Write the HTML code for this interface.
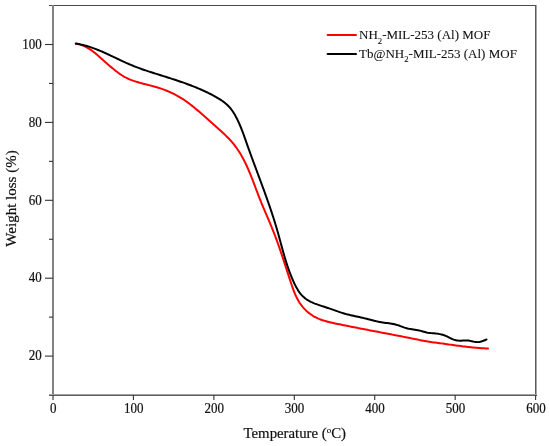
<!DOCTYPE html>
<html><head><meta charset="utf-8"><style>
html,body{margin:0;padding:0;background:#fff;}
body{width:550px;height:446px;overflow:hidden;}
svg{display:block;}
text{font-family:"Liberation Serif","Times New Roman",serif;fill:#111;stroke:#111;stroke-width:0.2px;}
.tl{font-size:13px;}
.tk{stroke:#333;stroke-width:1.1;}
.ax{font-size:14.5px;}
.lg{font-size:13px;stroke-width:0.08px;}
</style></head><body>
<svg width="550" height="446" viewBox="0 0 550 446">
<rect x="0" y="0" width="550" height="446" fill="#fff"/>
<path d="M75.76 43.65 L77.24 43.91 L78.70 44.23 L80.15 44.63 L81.58 45.09 L82.98 45.61 L84.37 46.19 L85.72 46.84 L87.05 47.53 L88.35 48.28 L89.63 49.07 L90.87 49.90 L92.09 50.77 L93.29 51.68 L94.47 52.61 L95.63 53.56 L96.77 54.53 L97.91 55.51 L99.03 56.50 L100.15 57.50 L101.28 58.49 L102.40 59.49 L103.52 60.48 L104.65 61.47 L105.77 62.46 L106.90 63.45 L108.04 64.43 L109.17 65.42 L110.31 66.39 L111.45 67.37 L112.60 68.33 L113.75 69.29 L114.92 70.24 L116.09 71.17 L117.28 72.08 L118.49 72.97 L119.71 73.84 L120.95 74.68 L122.21 75.49 L123.50 76.27 L124.80 77.01 L126.13 77.71 L127.48 78.36 L128.84 78.98 L130.23 79.57 L131.62 80.12 L133.03 80.64 L134.45 81.13 L135.87 81.60 L137.30 82.04 L138.74 82.47 L140.18 82.88 L141.63 83.27 L143.08 83.66 L144.53 84.03 L145.99 84.40 L147.44 84.77 L148.90 85.14 L150.35 85.51 L151.80 85.89 L153.25 86.27 L154.70 86.67 L156.14 87.07 L157.58 87.50 L159.01 87.95 L160.44 88.41 L161.86 88.89 L163.27 89.39 L164.68 89.92 L166.08 90.46 L167.47 91.02 L168.85 91.61 L170.22 92.21 L171.58 92.84 L172.94 93.48 L174.28 94.15 L175.61 94.84 L176.93 95.55 L178.24 96.28 L179.54 97.04 L180.82 97.81 L182.09 98.61 L183.35 99.43 L184.60 100.26 L185.83 101.12 L187.05 101.99 L188.26 102.87 L189.47 103.77 L190.66 104.68 L191.84 105.61 L193.01 106.54 L194.18 107.48 L195.34 108.44 L196.49 109.40 L197.63 110.37 L198.77 111.34 L199.91 112.32 L201.04 113.30 L202.17 114.29 L203.30 115.28 L204.42 116.27 L205.55 117.27 L206.67 118.26 L207.79 119.26 L208.91 120.26 L210.03 121.26 L211.15 122.26 L212.26 123.26 L213.38 124.26 L214.50 125.26 L215.61 126.26 L216.73 127.26 L217.85 128.26 L218.97 129.26 L220.08 130.26 L221.20 131.27 L222.30 132.28 L223.40 133.30 L224.50 134.33 L225.58 135.36 L226.66 136.41 L227.72 137.47 L228.76 138.55 L229.80 139.63 L230.81 140.74 L231.80 141.87 L232.77 143.01 L233.72 144.17 L234.65 145.35 L235.55 146.55 L236.43 147.76 L237.29 148.99 L238.13 150.23 L238.95 151.49 L239.75 152.76 L240.53 154.04 L241.29 155.33 L242.04 156.63 L242.76 157.95 L243.47 159.27 L244.16 160.60 L244.84 161.94 L245.50 163.29 L246.14 164.64 L246.78 166.00 L247.40 167.37 L248.01 168.74 L248.61 170.11 L249.19 171.49 L249.77 172.88 L250.34 174.26 L250.91 175.65 L251.46 177.05 L252.01 178.44 L252.55 179.84 L253.09 181.24 L253.63 182.64 L254.16 184.04 L254.69 185.45 L255.22 186.85 L255.75 188.26 L256.27 189.66 L256.80 191.06 L257.33 192.47 L257.86 193.87 L258.40 195.27 L258.94 196.67 L259.48 198.07 L260.03 199.46 L260.59 200.86 L261.15 202.25 L261.72 203.64 L262.29 205.02 L262.87 206.41 L263.45 207.79 L264.03 209.17 L264.62 210.55 L265.21 211.93 L265.80 213.31 L266.39 214.69 L266.98 216.07 L267.57 217.45 L268.16 218.83 L268.75 220.21 L269.33 221.59 L269.92 222.97 L270.50 224.35 L271.07 225.74 L271.64 227.12 L272.21 228.51 L272.77 229.91 L273.32 231.30 L273.87 232.70 L274.41 234.10 L274.95 235.50 L275.48 236.90 L276.00 238.31 L276.52 239.71 L277.03 241.12 L277.54 242.53 L278.05 243.95 L278.55 245.36 L279.04 246.78 L279.53 248.19 L280.02 249.61 L280.51 251.03 L280.99 252.45 L281.47 253.87 L281.95 255.29 L282.42 256.72 L282.89 258.14 L283.36 259.56 L283.83 260.99 L284.30 262.42 L284.76 263.84 L285.23 265.27 L285.69 266.69 L286.16 268.12 L286.62 269.55 L287.08 270.97 L287.55 272.40 L288.01 273.83 L288.48 275.25 L288.94 276.68 L289.41 278.10 L289.87 279.53 L290.34 280.95 L290.82 282.38 L291.29 283.80 L291.77 285.22 L292.26 286.64 L292.75 288.06 L293.27 289.47 L293.79 290.87 L294.34 292.27 L294.91 293.65 L295.51 295.03 L296.13 296.40 L296.79 297.74 L297.47 299.08 L298.20 300.39 L298.96 301.68 L299.76 302.95 L300.61 304.19 L301.50 305.40 L302.43 306.57 L303.40 307.72 L304.41 308.83 L305.45 309.90 L306.54 310.94 L307.66 311.94 L308.81 312.89 L310.00 313.81 L311.22 314.68 L312.47 315.51 L313.76 316.29 L315.07 317.01 L316.40 317.69 L317.76 318.33 L319.14 318.92 L320.54 319.47 L321.95 319.98 L323.37 320.46 L324.80 320.91 L326.24 321.33 L327.69 321.72 L329.14 322.09 L330.60 322.44 L332.06 322.77 L333.53 323.09 L334.99 323.40 L336.46 323.71 L337.93 324.01 L339.40 324.30 L340.87 324.60 L342.34 324.90 L343.81 325.20 L345.28 325.50 L346.75 325.79 L348.23 326.09 L349.70 326.38 L351.17 326.68 L352.64 326.97 L354.11 327.26 L355.58 327.55 L357.05 327.84 L358.53 328.13 L360.00 328.41 L361.47 328.70 L362.94 328.98 L364.42 329.27 L365.89 329.55 L367.36 329.84 L368.83 330.12 L370.31 330.40 L371.78 330.68 L373.25 330.96 L374.73 331.25 L376.20 331.53 L377.67 331.81 L379.15 332.09 L380.62 332.37 L382.10 332.65 L383.57 332.93 L385.04 333.21 L386.52 333.49 L387.99 333.78 L389.46 334.06 L390.94 334.34 L392.41 334.62 L393.88 334.91 L395.35 335.19 L396.83 335.48 L398.30 335.76 L399.77 336.05 L401.24 336.33 L402.72 336.62 L404.19 336.91 L405.66 337.20 L407.13 337.49 L408.60 337.79 L410.07 338.08 L411.54 338.37 L413.01 338.67 L414.48 338.97 L415.95 339.27 L417.42 339.57 L418.89 339.87 L420.36 340.17 L421.83 340.47 L423.31 340.75 L424.78 341.03 L426.26 341.29 L427.74 341.54 L429.22 341.77 L430.70 341.99 L432.19 342.20 L433.67 342.40 L435.16 342.60 L436.65 342.79 L438.14 342.98 L439.62 343.18 L441.11 343.38 L442.60 343.58 L444.08 343.78 L445.57 343.99 L447.05 344.20 L448.54 344.41 L450.02 344.63 L451.51 344.84 L452.99 345.05 L454.48 345.26 L455.96 345.46 L457.45 345.66 L458.94 345.86 L460.43 346.05 L461.91 346.24 L463.40 346.42 L464.89 346.59 L466.38 346.76 L467.87 346.93 L469.37 347.09 L470.86 347.24 L472.35 347.38 L473.84 347.53 L475.34 347.66 L476.83 347.79 L478.33 347.92 L479.82 348.03 L481.32 348.15 L482.81 348.25 L484.31 348.36 L485.81 348.45 L487.31 348.54 L488.00 348.58" fill="none" stroke="#ff0000" stroke-width="2" stroke-linejoin="round" stroke-linecap="round"/>
<path d="M75.81 43.56 L77.29 43.80 L78.77 44.07 L80.24 44.36 L81.70 44.68 L83.16 45.03 L84.61 45.41 L86.06 45.80 L87.50 46.22 L88.93 46.67 L90.36 47.13 L91.78 47.61 L93.19 48.11 L94.60 48.63 L96.00 49.17 L97.40 49.71 L98.79 50.28 L100.18 50.85 L101.56 51.44 L102.93 52.03 L104.31 52.64 L105.67 53.25 L107.04 53.88 L108.40 54.50 L109.76 55.14 L111.12 55.78 L112.47 56.42 L113.83 57.06 L115.18 57.71 L116.54 58.35 L117.89 59.00 L119.25 59.64 L120.60 60.28 L121.96 60.92 L123.32 61.55 L124.68 62.18 L126.05 62.80 L127.42 63.41 L128.79 64.01 L130.17 64.60 L131.55 65.18 L132.94 65.75 L134.33 66.31 L135.73 66.86 L137.13 67.39 L138.54 67.92 L139.95 68.43 L141.36 68.94 L142.77 69.44 L144.19 69.93 L145.61 70.41 L147.03 70.89 L148.46 71.36 L149.88 71.83 L151.31 72.29 L152.74 72.75 L154.17 73.20 L155.60 73.65 L157.03 74.11 L158.46 74.56 L159.89 75.00 L161.32 75.45 L162.75 75.90 L164.18 76.35 L165.61 76.80 L167.04 77.25 L168.47 77.71 L169.90 78.16 L171.33 78.62 L172.76 79.08 L174.19 79.55 L175.61 80.02 L177.03 80.49 L178.46 80.96 L179.88 81.45 L181.30 81.93 L182.71 82.42 L184.13 82.92 L185.54 83.43 L186.95 83.94 L188.36 84.46 L189.76 84.98 L191.16 85.52 L192.56 86.06 L193.96 86.61 L195.35 87.17 L196.74 87.74 L198.12 88.32 L199.50 88.90 L200.88 89.50 L202.25 90.11 L203.62 90.73 L204.98 91.36 L206.33 92.00 L207.69 92.65 L209.03 93.31 L210.37 93.99 L211.70 94.68 L213.03 95.38 L214.35 96.09 L215.66 96.81 L216.97 97.56 L218.26 98.32 L219.54 99.10 L220.80 99.91 L222.04 100.75 L223.26 101.62 L224.46 102.53 L225.62 103.47 L226.76 104.46 L227.85 105.48 L228.90 106.55 L229.91 107.66 L230.86 108.82 L231.77 110.01 L232.64 111.24 L233.46 112.49 L234.25 113.77 L235.01 115.06 L235.73 116.38 L236.43 117.70 L237.11 119.04 L237.77 120.39 L238.41 121.74 L239.03 123.11 L239.63 124.48 L240.22 125.86 L240.80 127.25 L241.36 128.64 L241.91 130.04 L242.44 131.44 L242.97 132.84 L243.49 134.25 L244.00 135.66 L244.51 137.07 L245.01 138.48 L245.51 139.90 L246.00 141.31 L246.50 142.73 L246.99 144.15 L247.49 145.56 L247.99 146.98 L248.49 148.39 L249.00 149.80 L249.51 151.21 L250.02 152.62 L250.53 154.03 L251.04 155.44 L251.55 156.85 L252.07 158.26 L252.59 159.67 L253.11 161.08 L253.63 162.48 L254.15 163.89 L254.67 165.30 L255.19 166.70 L255.71 168.11 L256.24 169.51 L256.76 170.92 L257.28 172.33 L257.81 173.73 L258.33 175.14 L258.86 176.54 L259.38 177.95 L259.90 179.35 L260.42 180.76 L260.94 182.17 L261.46 183.57 L261.98 184.98 L262.50 186.39 L263.02 187.80 L263.54 189.20 L264.05 190.61 L264.56 192.02 L265.07 193.43 L265.58 194.85 L266.09 196.26 L266.59 197.67 L267.10 199.08 L267.59 200.50 L268.09 201.91 L268.59 203.33 L269.08 204.75 L269.57 206.16 L270.05 207.58 L270.53 209.00 L271.01 210.43 L271.49 211.85 L271.96 213.27 L272.43 214.70 L272.89 216.12 L273.35 217.55 L273.81 218.98 L274.26 220.41 L274.70 221.84 L275.15 223.28 L275.58 224.71 L276.02 226.15 L276.44 227.59 L276.87 229.03 L277.28 230.47 L277.69 231.91 L278.10 233.35 L278.50 234.80 L278.90 236.24 L279.30 237.69 L279.69 239.14 L280.09 240.58 L280.48 242.03 L280.87 243.48 L281.27 244.93 L281.66 246.37 L282.06 247.82 L282.45 249.27 L282.85 250.71 L283.26 252.16 L283.67 253.60 L284.08 255.04 L284.50 256.48 L284.92 257.92 L285.35 259.36 L285.79 260.79 L286.24 262.23 L286.69 263.65 L287.16 265.08 L287.63 266.50 L288.11 267.92 L288.61 269.34 L289.11 270.75 L289.63 272.16 L290.16 273.57 L290.70 274.96 L291.26 276.36 L291.83 277.74 L292.41 279.13 L293.01 280.50 L293.62 281.87 L294.25 283.23 L294.90 284.58 L295.57 285.92 L296.27 287.25 L297.01 288.56 L297.77 289.85 L298.58 291.11 L299.44 292.35 L300.34 293.54 L301.29 294.70 L302.30 295.81 L303.37 296.86 L304.50 297.85 L305.69 298.77 L306.92 299.62 L308.19 300.41 L309.50 301.14 L310.84 301.83 L312.20 302.46 L313.57 303.06 L314.96 303.62 L316.37 304.15 L317.78 304.66 L319.20 305.15 L320.62 305.62 L322.05 306.09 L323.47 306.55 L324.90 307.00 L326.33 307.47 L327.75 307.94 L329.17 308.42 L330.59 308.91 L332.00 309.41 L333.42 309.92 L334.83 310.42 L336.24 310.92 L337.66 311.42 L339.08 311.91 L340.50 312.38 L341.93 312.84 L343.36 313.28 L344.80 313.70 L346.25 314.10 L347.70 314.48 L349.16 314.84 L350.62 315.18 L352.08 315.51 L353.54 315.83 L355.01 316.15 L356.48 316.47 L357.94 316.78 L359.41 317.10 L360.87 317.43 L362.34 317.76 L363.79 318.11 L365.25 318.47 L366.71 318.84 L368.16 319.21 L369.61 319.59 L371.06 319.96 L372.52 320.33 L373.97 320.69 L375.43 321.04 L376.89 321.38 L378.36 321.69 L379.83 321.98 L381.31 322.24 L382.79 322.48 L384.27 322.69 L385.76 322.89 L387.25 323.09 L388.73 323.29 L390.22 323.50 L391.70 323.74 L393.18 324.00 L394.64 324.31 L396.10 324.67 L397.54 325.09 L398.96 325.56 L400.37 326.08 L401.78 326.61 L403.18 327.13 L404.60 327.63 L406.03 328.08 L407.48 328.47 L408.94 328.78 L410.42 329.05 L411.90 329.29 L413.38 329.51 L414.87 329.73 L416.35 329.96 L417.82 330.23 L419.29 330.53 L420.75 330.89 L422.20 331.27 L423.65 331.67 L425.10 332.05 L426.55 332.41 L428.02 332.71 L429.51 332.94 L431.00 333.09 L432.49 333.19 L433.99 333.30 L435.48 333.45 L436.97 333.63 L438.45 333.86 L439.93 334.14 L441.39 334.45 L442.85 334.83 L444.27 335.29 L445.67 335.83 L447.04 336.45 L448.38 337.12 L449.72 337.80 L451.06 338.47 L452.42 339.10 L453.81 339.65 L455.25 340.10 L456.71 340.41 L458.20 340.60 L459.70 340.68 L461.20 340.66 L462.70 340.58 L464.19 340.48 L465.69 340.42 L467.19 340.44 L468.68 340.59 L470.16 340.86 L471.62 341.21 L473.08 341.56 L474.54 341.87 L476.03 342.08 L477.53 342.12 L479.02 341.97 L480.49 341.67 L481.93 341.26 L483.34 340.77 L484.74 340.22 L486.13 339.65 L486.50 339.49" fill="none" stroke="#000" stroke-width="2" stroke-linejoin="round" stroke-linecap="round"/>
<rect x="49" y="5" width="487" height="1" fill="#4a4a4a"/>
<rect x="52" y="5" width="2" height="391" fill="#828282"/>
<rect x="535" y="5" width="1" height="391" fill="#5a5a5a"/>
<rect x="536" y="5" width="1" height="391" fill="#a8a8a8"/>
<rect x="49" y="394" width="488" height="1" fill="#a0a0a0"/>
<rect x="49" y="395" width="488" height="1" fill="#606060"/>
<line x1="45" y1="44.50" x2="53" y2="44.50" class="tk"/>
<line x1="45" y1="122.40" x2="53" y2="122.40" class="tk"/>
<line x1="45" y1="200.30" x2="53" y2="200.30" class="tk"/>
<line x1="45" y1="278.20" x2="53" y2="278.20" class="tk"/>
<line x1="45" y1="356.10" x2="53" y2="356.10" class="tk"/>
<line x1="49" y1="83.45" x2="53" y2="83.45" class="tk"/>
<line x1="49" y1="161.35" x2="53" y2="161.35" class="tk"/>
<line x1="49" y1="239.25" x2="53" y2="239.25" class="tk"/>
<line x1="49" y1="317.15" x2="53" y2="317.15" class="tk"/>
<line x1="53.00" y1="395" x2="53.00" y2="400" class="tk"/>
<line x1="133.43" y1="395" x2="133.43" y2="400" class="tk"/>
<line x1="213.87" y1="395" x2="213.87" y2="400" class="tk"/>
<line x1="294.30" y1="395" x2="294.30" y2="400" class="tk"/>
<line x1="374.73" y1="395" x2="374.73" y2="400" class="tk"/>
<line x1="455.17" y1="395" x2="455.17" y2="400" class="tk"/>
<line x1="535.60" y1="395" x2="535.60" y2="400" class="tk"/>
<text transform="translate(41.7 48.70) scale(1 1.070)" text-anchor="end" class="tl">100</text>
<text transform="translate(41.7 126.60) scale(1 1.070)" text-anchor="end" class="tl">80</text>
<text transform="translate(41.7 204.50) scale(1 1.070)" text-anchor="end" class="tl">60</text>
<text transform="translate(41.7 282.40) scale(1 1.070)" text-anchor="end" class="tl">40</text>
<text transform="translate(41.7 360.30) scale(1 1.070)" text-anchor="end" class="tl">20</text>
<text transform="translate(53.30 413.4) scale(1 1.070)" text-anchor="middle" class="tl">0</text>
<text transform="translate(133.73 413.4) scale(1 1.070)" text-anchor="middle" class="tl">100</text>
<text transform="translate(214.17 413.4) scale(1 1.070)" text-anchor="middle" class="tl">200</text>
<text transform="translate(294.60 413.4) scale(1 1.070)" text-anchor="middle" class="tl">300</text>
<text transform="translate(375.03 413.4) scale(1 1.070)" text-anchor="middle" class="tl">400</text>
<text transform="translate(455.47 413.4) scale(1 1.070)" text-anchor="middle" class="tl">500</text>
<text transform="translate(535.90 413.4) scale(1 1.070)" text-anchor="middle" class="tl">600</text>
<line x1="327.6" y1="35" x2="356.0" y2="35" stroke="#ff0000" stroke-width="2" stroke-linecap="round"/>
<line x1="327.6" y1="54" x2="356.0" y2="54" stroke="#000" stroke-width="2" stroke-linecap="round"/>
<text x="359" y="39.2" class="lg">NH<tspan font-size="8.7" dy="4.4">2</tspan><tspan dy="-4.4">-MIL-253 (Al) MOF</tspan></text>
<text x="359" y="57.7" class="lg">Tb@NH<tspan font-size="8.7" dy="4.4">2</tspan><tspan dy="-4.4">-MIL-253 (Al) MOF</tspan></text>
<text transform="translate(16.2,198.5) rotate(-90)" text-anchor="middle" class="ax" style="font-size:15px">Weight loss (%)</text>
<text x="294.8" y="438.3" text-anchor="middle" class="ax" style="font-size:14.8px">Temperature (<tspan font-size="9" dy="-5">o</tspan><tspan dy="5">C)</tspan></text>
</svg>
</body></html>
